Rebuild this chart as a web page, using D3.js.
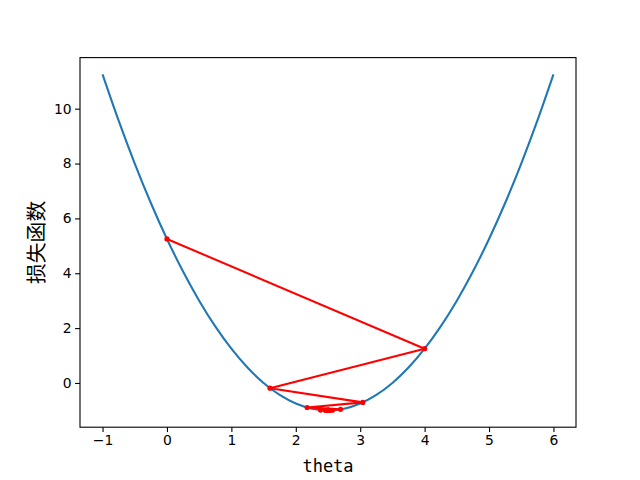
<!DOCTYPE html>
<html><head><meta charset="utf-8">
<script src="https://cdn.jsdelivr.net/npm/d3@7"></script>
<style>body{margin:0;background:#fff}svg{display:block}</style>
</head><body>
<script>
// Loss curve
const curveX = [-1,-0.75,-0.5,-0.25,0,0.25,0.5,0.75,1,1.25,1.5,1.75,2,2.25,2.5,2.75,3,3.25,3.5,3.75,4,4.25,4.5,4.75,5,5.25,5.5,5.75,6];
const curveY = [11.25,9.5625,8,6.5625,5.25,4.0625,3,2.0625,1.25,0.5625,0,-0.4375,-0.75,-0.9375,-1,-0.9375,-0.75,-0.4375,0,0.5625,1.25,2.0625,3,4.0625,5.25,6.5625,8,9.5625,11.25];
// Gradient descent path
const pathX = [0,4,1.6,3.04,2.176,2.6944,2.38336,2.569984,2.45801,2.525194,2.484883,2.50907,2.494558,2.503265,2.498041,2.501175,2.499295,2.500423,2.499746,2.500152,2.499909,2.500055];
const pathY = [5.25,1.25,-0.19,-0.7084,-0.895024,-0.962209,-0.986395,-0.995102,-0.998237,-0.999365,-0.999771,-0.999918,-0.99997,-0.999989,-0.999996,-0.999999,-1,-1,-1,-1,-1,-1];
const xTicks = [-1,0,1,2,3,4,5,6];
const yTicks = [0,2,4,6,8,10];
const xLabel = "theta";
const yLabel = "损失函数";

const W=640,H=480, L=80,R=576,T=57.6,B=427.2;
const svg=d3.select("body").append("svg").attr("width",W).attr("height",H);
const x=d3.scaleLinear().domain([-1.35,6.35]).range([L,R]);
const y=d3.scaleLinear().domain([-1.6125,11.8625]).range([B,T]);

const line=d3.line().x(d=>x(d[0])).y(d=>y(d[1]));
svg.append("path").datum(curveX.map((v,i)=>[v,curveY[i]]))
  .attr("d",line.curve(d3.curveCatmullRom)).attr("fill","none").attr("stroke","#1f77b4").attr("stroke-width",2.08);
const gd=pathX.map((v,i)=>[v,pathY[i]]);
svg.append("path").datum(gd).attr("d",d3.line().x(d=>x(d[0])).y(d=>y(d[1]))).attr("fill","none").attr("stroke","#ff0000").attr("stroke-width",2.08).attr("stroke-linejoin","round");
svg.selectAll("circle.m").data(gd).enter().append("circle").attr("class","m")
  .attr("cx",d=>x(d[0])).attr("cy",d=>y(d[1])).attr("r",2.6).attr("fill","#ff0000");

const xa=svg.append("g").attr("transform",`translate(0,${B})`).call(d3.axisBottom(x).tickValues(xTicks).tickSize(4.9).tickPadding(3.5).tickFormat(d3.format("d")));
const ya=svg.append("g").attr("transform",`translate(${L},0)`).call(d3.axisLeft(y).tickValues(yTicks).tickSize(4.9).tickPadding(3.5).tickFormat(d3.format("d")));
[xa,ya].forEach(a=>{a.select(".domain").remove();a.selectAll("line").attr("stroke","#000").attr("stroke-width",1.1);
  a.selectAll("text").attr("font-family","DejaVu Sans").attr("font-size",13.9).attr("fill","#000");});
svg.append("rect").attr("x",L).attr("y",T).attr("width",R-L).attr("height",B-T).attr("fill","none").attr("stroke","#000").attr("stroke-width",1.1);

svg.append("text").attr("x",(L+R)/2).attr("y",472).attr("text-anchor","middle")
  .attr("font-family","DejaVu Sans Mono").attr("font-size",17).text(xLabel);
svg.append("text").attr("transform",`translate(44,${(T+B)/2}) rotate(-90)`).attr("text-anchor","middle")
  .attr("font-family","Noto Sans CJK SC").attr("font-size",20.8).text(yLabel);
</script>
</body></html>
